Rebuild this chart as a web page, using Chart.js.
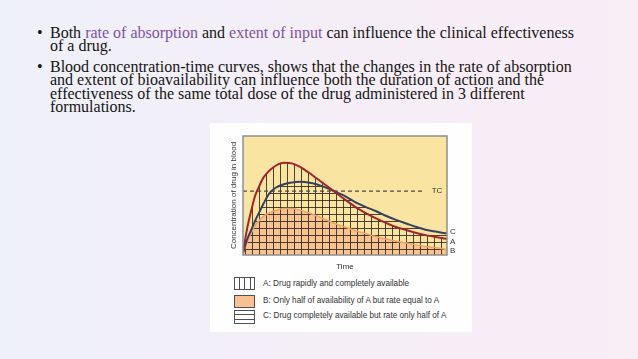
<!DOCTYPE html>
<html>
<head>
<meta charset="utf-8">
<script src="https://cdn.jsdelivr.net/npm/chart.js@4.4.1/dist/chart.umd.min.js"></script>
<style>
  html, body { margin: 0; padding: 0; }
  body {
    width: 638px; height: 359px; position: relative; overflow: hidden;
    background: linear-gradient(90deg, #eef0f8 0%, #f4eef7 45%, #f9edf6 100%);
  }
  .para {
    position: absolute; left: 50px; white-space: nowrap;
    font-family: "Liberation Serif", "Times New Roman", serif;
    font-size: 16px; line-height: 13.4px; color: #141414;
  }
  .para .dot { position: absolute; left: -13px; top: 0; }
  .hl { color: #7d52a3; }
  #panel { position: absolute; left: 210px; top: 123px; width: 262px; height: 209px; background: #fefefe; }
  #wrap { position: absolute; left: 210px; top: 123px; width: 262px; height: 152px; }
  .key { position: absolute; left: 234px; width: 19px; height: 11px; border: 1px solid #505050; background: #fff; }
  .key.a { top: 277px; background: repeating-linear-gradient(90deg, #fff 0 4.2px, #505050 4.2px 5.2px); }
  .key.b { top: 295px; background: #f7c190; }
  .key.c { top: 310px; height: 12px; background: repeating-linear-gradient(180deg, #fff 0 3.3px, #505050 3.3px 4.3px); }
  .ktext {
    position: absolute; left: 263px; white-space: nowrap;
    font-family: "Liberation Sans", Arial, sans-serif; font-size: 8.2px; color: #333;
  }
</style>
</head>
<body>
<div class="para" style="top:26px"><span class="dot">•</span>Both <span class="hl">rate of absorption</span> and <span class="hl">extent of input</span> can influence the clinical effectiveness<br>of a drug.</div>
<div class="para" style="top:60px"><span class="dot">•</span>Blood concentration-time curves, shows that the changes in the rate of absorption<br>and extent of bioavailability can influence both the duration of action and the<br>effectiveness of the same total dose of the drug administered in 3 different<br>formulations.</div>

<div id="panel"></div>
<div id="wrap"><canvas id="pkChart"></canvas></div>

<div class="key a"></div>
<div class="key b"></div>
<div class="key c"></div>
<div class="ktext" style="top:279px">A: Drug rapidly and completely available</div>
<div class="ktext" style="top:296px">B: Only half of availability of A but rate equal to A</div>
<div class="ktext" style="top:311px">C: Drug completely available but rate only half of A</div>

<script>
// time axis (arbitrary units, 0-100) and concentrations
const time = [0, 2, 4, 6, 8, 10, 13, 16, 20, 24, 28, 32, 36, 40, 45, 50, 55, 60, 65, 70, 75, 80, 85, 90, 95, 100];
const drugA = [2, 22, 37, 50, 58, 65, 71, 75, 77.5, 77, 74, 69.5, 64.5, 59.5, 53, 46.5, 40.5, 35.5, 31, 27, 23.5, 21, 18.5, 16.5, 15, 13.5];
const drugB = [1, 11, 18.5, 25, 29, 32.5, 35.5, 37.5, 39, 39, 37.5, 35.5, 33, 30, 26.5, 23.5, 20.5, 18, 15.5, 13.5, 11.5, 10, 8.5, 7, 6, 4.5];
const drugC = [2, 13, 21, 29, 36, 43, 52, 56.5, 59.5, 61, 61.5, 61, 59.5, 57, 53.5, 49.5, 44.5, 40.5, 37, 33, 29.5, 26.5, 23.5, 21, 19.5, 18];
const tcLevel = 53.7;
const tcSpan = [0, 89];

const pts = (ys) => time.map((t, i) => ({ x: t, y: ys[i] }));

// line hatching used for A (vertical) and C (horizontal)
function hatch(vertical) {
  const c = document.createElement("canvas");
  c.width = 7;
  c.height = 7;
  const g = c.getContext("2d");
  g.fillStyle = "rgba(58,46,34,0.9)";
  if (vertical) g.fillRect(0, 0, 1, 7);
  else g.fillRect(0, 0, 7, 1);
  return g.createPattern(c, "repeat");
}

const plotFrame = {
  id: "plotFrame",
  beforeDraw(chart) {
    const { ctx, chartArea: a } = chart;
    ctx.save();
    ctx.fillStyle = "#fae4a2";
    ctx.fillRect(a.left, a.top, a.right - a.left, a.bottom - a.top);
    ctx.restore();
  },
  afterDraw(chart) {
    const { ctx, chartArea: a, scales } = chart;
    ctx.save();
    ctx.strokeStyle = "#8e8e8e";
    ctx.lineWidth = 1.5;
    ctx.strokeRect(a.left, a.top, a.right - a.left, a.bottom - a.top);

    ctx.font = '8px "Liberation Sans", Arial, sans-serif';
    ctx.fillStyle = "#333";
    ctx.textBaseline = "middle";
    ctx.textAlign = "center";
    ctx.fillText("TC", a.right - 10, scales.y.getPixelForValue(tcLevel));
    ctx.textAlign = "left";
    const lx = a.right + 3;
    ctx.fillText("C", lx, scales.y.getPixelForValue(drugC[drugC.length - 1]) - 1.5);
    ctx.fillText("A", lx, scales.y.getPixelForValue(drugA[drugA.length - 1]) + 3);
    ctx.fillText("B", lx, scales.y.getPixelForValue(drugB[drugB.length - 1]) + 1.5);
    ctx.restore();
  },
};

new Chart(document.getElementById("pkChart"), {
  type: "line",
  data: {
    datasets: [
      {
        label: "A",
        data: pts(drugA),
        borderColor: "#a2232c",
        borderWidth: 2,
        backgroundColor: hatch(true),
        fill: "origin",
      },
      {
        label: "C",
        data: pts(drugC),
        borderColor: "#34405f",
        borderWidth: 2,
        backgroundColor: hatch(false),
        fill: "origin",
      },
      {
        label: "B",
        data: pts(drugB),
        borderColor: "#efa466",
        borderWidth: 1.5,
        backgroundColor: "#f7c391",
        fill: "origin",
      },
      {
        label: "TC",
        data: tcSpan.map((t) => ({ x: t, y: tcLevel })),
        borderColor: "#4e4a3c",
        borderWidth: 1.1,
        borderDash: [4, 3],
        fill: false,
      },
    ],
  },
  options: {
    responsive: true,
    maintainAspectRatio: false,
    animation: false,
    layout: { padding: { left: 15.4, top: 13, right: 25, bottom: 1.4 } },
    elements: {
      point: { radius: 0 },
      line: { cubicInterpolationMode: "monotone" },
    },
    plugins: {
      legend: { display: false },
      tooltip: { enabled: false },
      filler: { drawTime: "beforeDatasetsDraw" },
    },
    scales: {
      x: {
        type: "linear",
        min: 0,
        max: 100,
        ticks: { display: false },
        grid: { display: false, drawTicks: false },
        border: { display: false },
        title: {
          display: true,
          text: "Time",
          color: "#333",
          font: { family: '"Liberation Sans", Arial, sans-serif', size: 8 },
          padding: { top: 7, bottom: 2 },
        },
      },
      y: {
        min: 0,
        max: 100,
        ticks: { display: false },
        grid: { display: false, drawTicks: false },
        border: { display: false },
        title: {
          display: true,
          text: "Concentration of drug in blood",
          color: "#333",
          font: { family: '"Liberation Sans", Arial, sans-serif', size: 8 },
          padding: { top: 4, bottom: 4 },
        },
      },
    },
  },
  plugins: [plotFrame],
});
</script>
</body>
</html>
